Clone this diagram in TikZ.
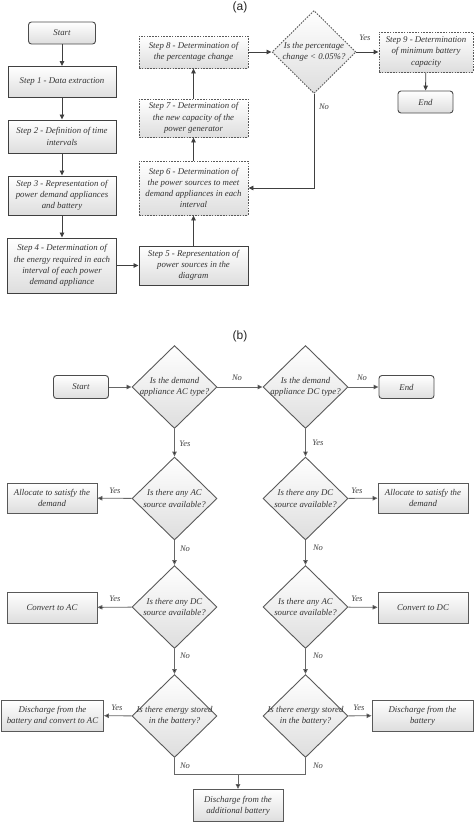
\documentclass[tikz,border=0pt]{standalone}
\usepackage{fontspec}
\setmainfont{Liberation Serif}
\newfontfamily\labfont{Liberation Sans}
\usetikzlibrary{arrows.meta,shapes.geometric}
\tikzset{
  txt/.style={font=\fontsize{8.8}{11.2}\selectfont\itshape, text=black!80, align=center, inner sep=1pt},
  shd/.style={top color=white, bottom color=black!13},
  box/.style={txt, shd, draw=black!75, line width=1pt},
  bboxb/.style={txt, shd, draw=black!65, line width=0.9pt},
  dbox/.style={txt, shd, draw=black!65, line width=0.9pt, dash pattern=on 1.6pt off 1.2pt},
  term/.style={txt, shd, draw=black!70, line width=0.9pt, rounded corners=3pt},
  dia/.style={diamond, shd, draw=black!65, line width=0.9pt, minimum width=85pt, minimum height=83pt, inner sep=0pt},
  ddia/.style={dia, dash pattern=on 1.6pt off 1.2pt, minimum width=84pt},
  dtxt/.style={txt, inner sep=0pt},
  lab/.style={font=\fontsize{8.5}{10}\selectfont\itshape, text=black!75, inner sep=0pt},
  arr/.style={draw=black!75, line width=0.9pt, -{Triangle[length=5pt,width=4.5pt]}},
  arrb/.style={draw=black!60, line width=0.9pt, -{Triangle[length=5pt,width=4.5pt,fill=black!85]}},
  lineb/.style={draw=black!60, line width=0.9pt},
  ttl/.style={font=\labfont\fontsize{12}{14}\selectfont, text=black!85, inner sep=0pt}
}
\begin{document}
\begin{tikzpicture}[x=1pt,y=-1pt]
\useasboundingbox (0,0) rectangle (474,823);
% ---------------- (a) ----------------
\node[ttl] (ta) at (240,7) {(a)};
\node[term, minimum width=67pt, minimum height=22pt] (start) at (62,33) {Start};
\node[box, minimum width=108pt, minimum height=31pt] (s1) at (62,82) {Step 1 - Data extraction};
\node[box, minimum width=108pt, minimum height=33pt] (s2) at (62,136.5) {Step 2 - Definition of time\\intervals};
\node[box, minimum width=108pt, minimum height=39pt] (s3) at (62,195.5) {Step 3 - Representation of\\power demand appliances\\and battery};
\node[box, minimum width=109pt, minimum height=55pt] (s4) at (62,265.5) {Step 4 - Determination of\\the energy required in each\\interval of each power\\demand appliance};
\node[box, minimum width=109pt, minimum height=39pt] (s5) at (193.5,265.5) {Step 5 - Representation of\\power sources in the\\diagram};
\node[dbox, minimum width=109pt, minimum height=54pt] (s6) at (193.5,188) {Step 6 - Determination of\\the power sources to meet\\demand appliances in each\\interval};
\node[dbox, minimum width=109pt, minimum height=38pt] (s7) at (193.5,118) {Step 7 - Determination of\\the new capacity of the\\power generator};
\node[dbox, minimum width=109pt, minimum height=32pt] (s8) at (193.5,52) {Step 8 - Determination of\\the percentage change};
\node[ddia] (dA) at (314,52) {};
\node[dtxt] (tA) at (314,52) {Is the percentage\\change < 0.05\%?};
\node[dbox, minimum width=94pt, minimum height=40pt] (s9) at (426,52) {Step 9 - Determination\\of minimum battery\\capacity};
\node[term, minimum width=55pt, minimum height=22pt] (endA) at (425.5,102) {End};
\draw[arr] (start) -- (s1);
\draw[arr] (s1) -- (s2);
\draw[arr] (s2) -- (s3);
\draw[arr] (s3) -- (s4);
\draw[arr] (s4) -- (s5);
\draw[arr] (s5) -- (s6);
\draw[arr] (s6) -- (s7);
\draw[arr] (s7) -- (s8);
\draw[arr] (s8) -- (dA);
\draw[arr] (dA) -- (s9);
\draw[arr] (s9) -- (endA);
\draw[arr] (dA.south) |- (s6.east);
\node[lab] (yA) at (365,38) {Yes};
\node[lab] (nA) at (324,107) {No};
% ---------------- (b) ----------------
\node[ttl] (tb) at (240,336) {(b)};
\node[term, minimum width=55pt, minimum height=23pt] (startB) at (81,387) {Start};
\node[dia] (d1) at (174.5,387) {};
\node[dtxt] (t1) at (174.5,387) {Is the demand\\appliance AC type?};
\node[dia] (d2) at (305.5,387) {};
\node[dtxt] (t2) at (305.5,387) {Is the demand\\appliance DC type?};
\node[term, minimum width=55pt, minimum height=23pt] (endB) at (406.5,387) {End};
\node[dia] (d3) at (174.5,498.5) {};
\node[dtxt] (t3) at (174.5,498.5) {Is there any AC\\source available?};
\node[dia] (d4) at (174.5,607) {};
\node[dtxt] (t4) at (174.5,607) {Is there any DC\\source available?};
\node[dia] (d7) at (174.5,716) {};
\node[dtxt] (t7) at (174.5,716) {Is there energy stored\\in the battery?};
\node[dia] (d5) at (305.5,498.5) {};
\node[dtxt] (t5) at (305.5,498.5) {Is there any DC\\source available?};
\node[dia] (d6) at (305.5,607) {};
\node[dtxt] (t6) at (305.5,607) {Is there any AC\\source available?};
\node[dia] (d8) at (305.5,716) {};
\node[dtxt] (t8) at (305.5,716) {Is there energy stored\\in the battery?};
\node[bboxb, minimum width=90pt, minimum height=30pt] (allocL) at (52,498) {Allocate to satisfy the\\demand};
\node[bboxb, minimum width=90pt, minimum height=31pt] (convAC) at (52,607.5) {Convert to AC};
\node[bboxb, minimum width=102pt, minimum height=31pt] (dischL) at (52.5,715.5) {Discharge from the\\battery and convert to AC};
\node[bboxb, minimum width=90pt, minimum height=30pt] (allocR) at (423,498) {Allocate to satisfy the\\demand};
\node[bboxb, minimum width=90pt, minimum height=31pt] (convDC) at (423,607.5) {Convert to DC};
\node[bboxb, minimum width=101pt, minimum height=31pt] (dischR) at (422.5,715.5) {Discharge from the\\battery};
\node[bboxb, minimum width=90pt, minimum height=32pt] (final) at (238,805.5) {Discharge from the\\additional battery};
\coordinate (m) at (238,774);
\draw[arrb] (startB) -- (d1);
\draw[arrb] (d1) -- (d2);
\draw[arrb] (d2) -- (endB);
\draw[arrb] (d1) -- (d3);
\draw[arrb] (d3) -- (d4);
\draw[arrb] (d4) -- (d7);
\draw[arrb] (d2) -- (d5);
\draw[arrb] (d5) -- (d6);
\draw[arrb] (d6) -- (d8);
\draw[arrb] (d3) -- (allocL);
\draw[arrb] (d4) -- (convAC);
\draw[arrb] (d7) -- (dischL);
\draw[arrb] (d5) -- (allocR);
\draw[arrb] (d6) -- (convDC);
\draw[arrb] (d8) -- (dischR);
\draw[lineb] (d7.south) |- (m);
\draw[lineb] (d8.south) |- (m);
\draw[arrb] (m) -- (final);
\node[lab] (n1) at (237,378) {No};
\node[lab] (n2) at (362,378) {No};
\node[lab] (y1) at (185,444) {Yes};
\node[lab] (y2) at (318,443) {Yes};
\node[lab] (y3) at (115,491) {Yes};
\node[lab] (y4) at (357,491) {Yes};
\node[lab] (n3) at (185,549) {No};
\node[lab] (n4) at (318,548) {No};
\node[lab] (y5) at (115,599) {Yes};
\node[lab] (y6) at (357,599) {Yes};
\node[lab] (n5) at (185,656) {No};
\node[lab] (n6) at (318,656) {No};
\node[lab] (y7) at (117,708) {Yes};
\node[lab] (y8) at (359,708) {Yes};
\node[lab] (n7) at (185,766) {No};
\node[lab] (n8) at (318,766) {No};
\end{tikzpicture}
\end{document}
